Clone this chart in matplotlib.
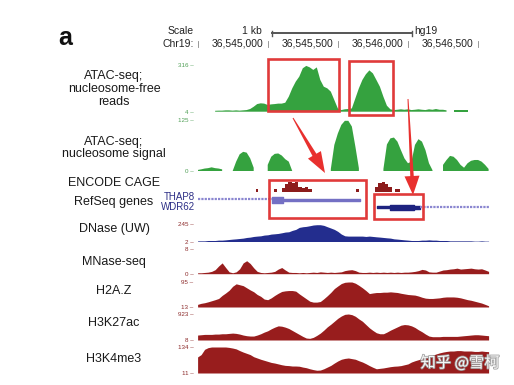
import numpy as np
import matplotlib
matplotlib.use('Agg')
import matplotlib.pyplot as plt
import matplotlib.patheffects as pe
from matplotlib.patches import Rectangle, Polygon

plt.rcParams['font.family'] = ['Liberation Sans', 'DejaVu Sans']

W, H = 514, 385
X_LEFT, X_RIGHT = 197.6, 490
GENOME_START, GENOME_END = 36544500, 36546585

# signal bins every 25 bp
positions = np.arange(36544500, 36546576, 25)
nan = np.nan

atac_free = [nan, nan, nan, nan, nan, 10,
             11, 11, 13, 13, 11, 13, 11, 13, 15, 22,
             37, 55, 60, 58, 49, 53, 55, 58, 58, 64,
             104, 160, 205, 238, 294, 310, 300, 283, 300, 216,
             171, 160, 138, 82, 26, 15, 20, 22, 26, 93,
             160, 216, 254, 280, 260, 216, 171, 104, 44, 20,
             15, 17, 20, 17, 20, 15, 17, 20, 17, 15,
             20, 17, 22, 17, 17, 13,
             nan, 18, 18, 18, 18, 18, nan, nan, nan, nan, nan, nan]

atac_nuc = [2.5, 4, 6, 7, 9, 7, 6, 4,
            nan, nan,
            0, 23, 41, 47, 45, 31, 8,
            nan, nan, nan,
            15, 35, 42, 43, 38, 29, 23, 0,
            nan, nan, nan, nan, nan, nan, nan, nan, nan, nan,
            5, 64, 92, 113, 123, 123, 109, 60, 7,
            nan, nan, nan, nan, nan, nan,
            5, 65, 80, 82, 72, 51, 31, 19, 23, 64, 78, 72, 51, 19, 2,
            nan, nan,
            15, 27, 37, 35, 27, 15, 8, 19, 25, 27, 27, 23, 15, 5]

dnase = [11, 11, 11, 16, 16, 16, 21, 21, 25, 30, 35, 39,
         44, 49, 58, 63, 72, 77, 81, 91, 95, 105, 109, 114,
         123, 133, 137, 156, 170, 198, 207, 212, 221, 231, 235, 235,
         226, 207, 189, 170, 142, 105, 81, 77, 77, 77, 77, 77,
         72, 77, 72, 67, 63, 58, 53, 49, 39, 35, 30, 25,
         21, 16, 16, 16, 21, 21, 25, 21, 21, 16, 16, 16,
         11, 11, 11, 11, 11, 11, 11, 7, 7, 11, 7, 7]

mnase = [0.3, 0.3, 0.4, 0.5, 0.75, 1.3, 2.5, 3.5, 2.0, 0.6, 0.3, 0.6,
         1.6, 3.5, 4.2, 3.3, 1.9, 0.75, 0.4, 0.3, 0.4, 0.5, 0.75, 1.5,
         2.0, 1.2, 0.5, 0.4, 0.4, 0.3, 0.4, 0.3, 0.4, 0.5, 0.4, 0.6,
         0.5, 0.4, 0.5, 0.4, 0.5, 0.6, 1.0, 1.2, 1.3, 1.0, 0.5, 0.4,
         0.4, 0.5, 0.4, 0.5, 0.4, 0.5, 0.4, 0.5, 0.4, 0.5, 0.4, 0.5,
         0.5, 0.6, 0.75, 1.0, 1.4, 1.2, 0.6, 0.5, 0.5, 0.85, 1.2, 1.3,
         1.5, 1.6, 1.8, 1.5, 1.6, 1.7, 1.8, 1.6, 1.5, 1.6, 1.2, 0.75]

h2az = [21.6, 25, 27, 30, 33.5, 37, 41, 51, 59, 68, 81, 89,
        86, 83, 76, 69, 63, 54, 48, 39, 37, 43, 51, 58,
        64, 66, 67, 67, 65, 56, 48, 40, 32, 29, 29, 31,
        40, 50, 61, 73.5, 82, 90, 94, 95, 95, 91, 84, 76,
        67, 57, 59, 60.5, 60.5, 61.6, 61.6, 62.7, 61.6, 60.5, 58, 56,
        54, 53, 52, 49, 45, 42, 41, 41, 42, 43, 45, 46,
        46, 46, 45, 43, 40, 37, 35, 32, 29, 26, 21.6, 17]

h3k27ac = [182, 193, 205, 205, 205, 216, 216, 228, 228, 240, 251, 240,
           216, 182, 159, 147, 147, 182, 228, 286, 332, 402, 460, 506,
           494, 460, 413, 344, 274, 205, 135, 77, 66, 101, 170, 251,
           355, 471, 564, 668, 772, 853, 911, 923, 900, 842, 749, 668,
           552, 436, 344, 263, 228, 228, 286, 355, 413, 471, 529, 552,
           541, 506, 448, 367, 298, 216, 147, 124, 124, 124, 135, 135,
           135, 135, 135, 147, 159, 170, 182, 193, 193, 182, 170, 159]

h3k4me3 = [87, 98, 123, 131, 134, 134, 134, 134, 134, 132, 129, 125,
           117, 110, 104, 98, 88, 82, 76, 71, 66, 61, 58, 54,
           50, 47, 46, 44, 44, 43, 39, 36, 31, 27, 24, 25,
           31, 39, 47, 58, 68, 76, 80, 82, 79, 76, 69, 63,
           55, 46, 38, 31, 33, 35, 38, 41, 43, 44, 46, 50,
           54, 63, 69, 74, 79, 84, 88, 95, 101, 106, 110, 113,
           115, 115, 117, 117, 115, 115, 115, 113, 113, 115, 113, 112]

# ENCODE CAGE clusters
cage_start = [36544913, 36545047, 36545100, 36545124, 36545148, 36545171, 36545195,
              36545219, 36545243, 36545267, 36545290, 36545630,
              36545768, 36545789, 36545813, 36545836, 36545860, 36545908]
cage_end = [36544932, 36545069, 36545124, 36545148, 36545171, 36545195, 36545219,
            36545243, 36545267, 36545290, 36545314, 36545654,
            36545789, 36545813, 36545836, 36545860, 36545884, 36545944]
cage_height = [8, 8, 10, 20, 26, 24, 26, 13, 11, 13, 8, 8,
               12, 24, 26, 20, 12, 8]

# RefSeq genes
thap8_intron = (36544500, 36545028)
thap8_exon = (36545028, 36545107)
thap8_utr = (36545107, 36545658)
wdr62_utr5 = (36545777, 36545872)
wdr62_exon = (36545872, 36546044)
wdr62_utr3 = (36546044, 36546086)
wdr62_intron = (36546086, 36546585)

coord_ticks = [36545000, 36545500, 36546000, 36546500]
scale_start, scale_len = 36545030, 1000

GREEN = '#35a23f'
NAVY = '#232d8e'
DARKRED = '#981d1d'
BOX_RED = '#e03a3a'


def add_track(fig, top, bottom):
    ax = fig.add_axes([X_LEFT / W, 1 - bottom / H, (X_RIGHT - X_LEFT) / W, (bottom - top) / H])
    ax.set_xlim(GENOME_START, GENOME_END)
    ax.patch.set_alpha(0)
    for s in ax.spines.values():
        s.set_visible(False)
    ax.set_xticks([])
    ax.set_yticks([])
    return ax


def signal_track(fig, top, bottom, values, lo, hi, color, tick_color):
    ax = add_track(fig, top, bottom)
    vals = np.clip(np.array(values, dtype=float), lo, hi)
    ax.fill_between(positions, lo, vals, color=color, linewidth=0)
    ax.set_ylim(lo, hi)
    ax.set_yticks([lo, hi], [f'{lo} \u2013', f'{hi} \u2013'])
    ax.tick_params(axis='y', length=0, pad=3, labelsize=4.5, labelcolor=tick_color)
    return ax


def tapered_arrow(ax, x0, y0, x1, y1, tail_w, shaft_w, head_w, head_len, color):
    p0 = np.array([x0, y0], dtype=float)
    p1 = np.array([x1, y1], dtype=float)
    u = (p1 - p0) / np.linalg.norm(p1 - p0)
    n = np.array([-u[1], u[0]])
    base = p1 - u * head_len
    verts = [p0 + n * tail_w / 2, base + n * shaft_w / 2, base + n * head_w / 2, p1,
             base - n * head_w / 2, base - n * shaft_w / 2, p0 - n * tail_w / 2]
    ax.add_patch(Polygon(verts, closed=True, color=color, linewidth=0, zorder=5))


fig = plt.figure(figsize=(W / 100, H / 100), dpi=100)

# header: scale bar and coordinates
hdr = add_track(fig, 25, 50)
hdr.set_ylim(50, 25)
hdr.plot([scale_start, scale_start + scale_len], [33, 33], color='#555555', lw=1.4, clip_on=False)
for x in [scale_start, scale_start + scale_len]:
    hdr.plot([x, x], [30.5, 35.5], color='#555555', lw=1, clip_on=False)
hdr.text(scale_start - 70, 31.5, '1 kb', ha='right', va='center', fontsize=7.5, color='#222222')
hdr.text(scale_start + scale_len + 15, 31.5, 'hg19', ha='left', va='center', fontsize=7.5, color='#222222')
hdr.text(GENOME_START - 30, 31.5, 'Scale', ha='right', va='center', fontsize=7.5, color='#222222', clip_on=False)
hdr.text(GENOME_START - 30, 44, 'Chr19:', ha='right', va='center', fontsize=7.5, color='#222222', clip_on=False)
hdr.plot([GENOME_START, GENOME_START], [41, 47], color='#888888', lw=0.6, clip_on=False)
for t in coord_ticks:
    hdr.text(t - 30, 44, f'{t:,}', ha='right', va='center', fontsize=7.5, color='#222222')
    hdr.plot([t, t], [41, 47], color='#888888', lw=0.6, clip_on=False)

signal_track(fig, 65, 111.7, atac_free, 4, 316, GREEN, '#4f9f55')
signal_track(fig, 120, 171, atac_nuc, 0, 125, GREEN, '#4f9f55')

cage = add_track(fig, 182, 191.5)
cage.bar(cage_start, cage_height, width=np.array(cage_end) - np.array(cage_start),
         align='edge', color='#8c1c1c', linewidth=0)
cage.set_ylim(0, 27)

genes = add_track(fig, 192, 212)
genes.set_ylim(0, 20)
genes.plot(thap8_intron, [13, 13], color='#8a86d0', lw=1.6, ls=(0, (1, 0.5)))
genes.broken_barh([(thap8_exon[0], thap8_exon[1] - thap8_exon[0])], (9, 6), color='#7470c4')
genes.broken_barh([(thap8_utr[0], thap8_utr[1] - thap8_utr[0])], (10.7, 2.6), color='#7470c4')
genes.plot(wdr62_intron, [4.7, 4.7], color='#8a86d0', lw=1.6, ls=(0, (1, 0.5)))
genes.broken_barh([(wdr62_utr5[0], wdr62_utr5[1] - wdr62_utr5[0])], (3.7, 2.0), color='#1e2380')
genes.broken_barh([(wdr62_exon[0], wdr62_exon[1] - wdr62_exon[0])], (2, 5.3), color='#1e2380')
genes.broken_barh([(wdr62_utr3[0], wdr62_utr3[1] - wdr62_utr3[0])], (3.2, 3.0), color='#1e2380')

signal_track(fig, 224, 241.5, dnase, 2, 245, NAVY, '#8c2a2a')
signal_track(fig, 249, 273.7, mnase, 0, 8, DARKRED, '#8c2a2a')
signal_track(fig, 282, 307, h2az, 13, 95, DARKRED, '#8c2a2a')
signal_track(fig, 314, 340, h3k27ac, 8, 923, DARKRED, '#8c2a2a')
signal_track(fig, 347, 373, h3k4me3, 11, 134, DARKRED, '#8c2a2a')

# overlay in pixel units for labels and annotations
ov = fig.add_axes([0, 0, 1, 1], zorder=10)
ov.set_xlim(0, W)
ov.set_ylim(H, 0)
ov.axis('off')

ov.text(58, 38, 'a', fontsize=18, fontweight='bold', ha='left', va='center', color='#111111')

labels = [('ATAC-seq;\nnucleosome-free\nreads', 89),
          ('ATAC-seq;\nnucleosome signal', 148),
          ('ENCODE CAGE', 183.5),
          ('RefSeq genes', 202),
          ('DNase (UW)', 229),
          ('MNase-seq', 262),
          ('H2A.Z', 291),
          ('H3K27ac', 323.5),
          ('H3K4me3', 358.5)]
for text, y in labels:
    ov.text(114, y, text, ha='center', va='center', fontsize=9, linespacing=1.1, color='#1a1a1a')

ov.text(195, 197.5, 'THAP8', ha='right', va='center', fontsize=7, color='#2d2f86')
ov.text(195, 207, 'WDR62', ha='right', va='center', fontsize=7, color='#2d2f86')

boxes = [(268, 58.5, 71, 52.5), (349, 61, 44, 54), (269, 180, 97, 38), (374, 194, 49, 25)]
for x, y, w, h in boxes:
    ov.add_patch(Rectangle((x, y), w, h, fill=False, edgecolor=BOX_RED, lw=1.9, zorder=6))

tapered_arrow(ov, 293, 118, 325, 173, 1.0, 4.5, 15, 21, '#e8302e')
tapered_arrow(ov, 408, 99, 413, 195, 1.0, 3.5, 15, 19, '#e8302e')

ov.text(460, 363, '知乎 @雪柯', ha='center', va='center', fontsize=11, color='white', alpha=0.92,
        family=['Noto Sans CJK SC', 'DejaVu Sans'],
        path_effects=[pe.withStroke(linewidth=1.2, foreground='#9a9a9a')])

fig.savefig('out.png', dpi=100)
